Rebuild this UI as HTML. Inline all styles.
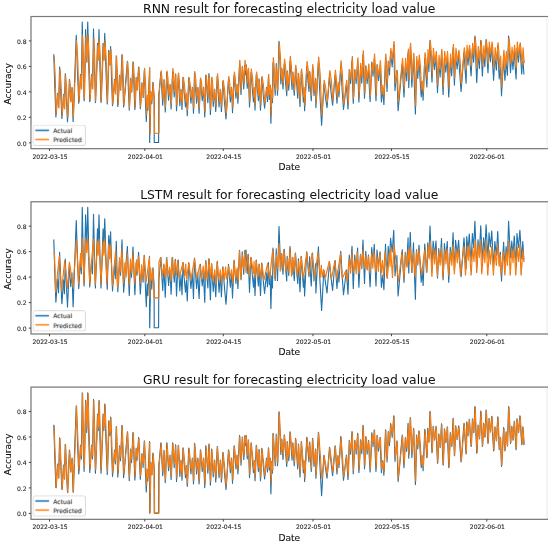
<!DOCTYPE html><html><head><meta charset="utf-8"><style>html,body{margin:0;padding:0;background:#fff;overflow:hidden}svg{display:block}</style></head><body><svg width="550" height="544" viewBox="0 0 550 544">
<style>text{font-family:"DejaVu Sans","Liberation Sans",sans-serif;fill:#1a1a1a;stroke:#1a1a1a;stroke-width:0.08px} text.lab{fill:#111;stroke:#111;stroke-width:0.1px} text.ttl{fill:#111;stroke:none}</style>
<rect width="550" height="544" fill="#fff"/>
<defs><filter id="bl" x="0" y="0" width="1" height="1" color-interpolation-filters="sRGB"><feConvolveMatrix order="3" kernelMatrix="0.0114 0.084 0.0114 0.084 0.618 0.084 0.0114 0.084 0.0114" edgeMode="duplicate" preserveAlpha="true"/></filter></defs><g filter="url(#bl)">
<polyline points="53.80,54.25 54.74,85.62 55.90,117.00 57.50,93.40 58.55,107.40 59.60,67.10 60.63,92.80 61.90,118.50 63.50,94.40 64.38,108.40 65.25,73.75 66.26,97.75 67.50,121.75 69.40,79.50 69.98,90.45 70.70,101.40 72.00,87.40 73.10,121.40 76.25,35.25 77.38,69.25 78.75,103.25 80.50,74.40 81.38,88.40 82.25,22.10 83.08,61.43 84.10,100.75 85.60,29.60 86.70,62.00 87.75,22.10 88.65,61.93 89.75,101.75 91.50,74.40 92.50,88.40 93.50,29.00 94.36,65.80 95.40,102.60 97.50,43.40 98.30,60.00 99.00,29.60 99.90,66.10 101.00,102.60 103.10,43.40 103.90,60.00 104.75,33.40 105.88,68.65 107.25,103.90 108.75,50.25 109.70,65.00 110.60,46.50 111.45,76.12 112.50,105.75 114.50,79.40 115.38,93.40 116.25,55.90 116.95,81.15 117.80,106.40 119.50,75.30 120.50,90.00 122.00,54.60 122.72,80.80 123.60,107.00 127.40,61.25 128.23,85.67 129.25,110.10 130.50,78.40 131.50,92.00 133.00,61.75 133.85,85.62 134.90,109.50 136.10,77.40 137.00,90.00 138.60,67.00 139.37,87.85 140.30,108.70 141.90,82.90 143.10,96.90 144.30,70.30 145.20,95.85 146.30,121.40 147.10,98.40 147.90,110.40 149.50,70.95 149.70,142.40 150.70,91.40 151.80,104.00 152.90,82.40 154.05,99.00 154.25,142.50 158.60,142.50 158.80,95.00 160.90,72.20 161.73,88.65 162.75,105.10 164.00,79.65 164.56,95.83 165.25,112.00 166.75,72.20 167.58,86.15 168.60,100.10 170.00,84.40 171.10,108.90 172.60,72.20 173.34,84.60 174.25,97.00 175.50,74.10 176.50,110.75 178.25,74.70 178.99,90.22 179.90,105.75 181.00,89.40 182.00,109.50 183.00,77.20 184.12,92.10 185.50,107.00 186.38,95.00 187.25,115.75 188.75,77.45 189.76,90.35 191.00,103.25 192.30,87.40 193.50,113.25 194.50,72.80 195.44,88.03 196.60,103.25 197.80,87.40 198.38,100.33 199.10,113.25 200.40,79.10 201.23,89.92 202.25,100.75 203.50,87.40 204.06,102.20 204.75,117.00 205.75,75.30 206.72,88.95 207.90,102.60 208.90,73.45 209.58,93.97 210.40,114.50 211.60,78.45 212.34,92.43 213.25,106.40 214.50,89.40 215.06,100.40 215.75,111.40 217.25,75.95 218.08,91.47 219.10,107.00 220.30,89.40 221.40,111.40 222.90,81.60 224.30,100.25 226.00,118.90 228.50,79.10 229.35,90.55 230.40,102.00 231.50,87.40 232.50,112.60 234.10,75.30 234.95,86.78 236.00,98.25 237.00,84.40 237.90,103.25 239.50,64.95 240.18,79.72 241.00,94.50 242.25,66.50 242.93,77.70 243.75,88.90 244.75,65.30 245.40,75.00 246.00,64.65 246.56,76.45 247.25,88.25 248.25,69.10 248.81,88.05 249.50,107.00 251.00,72.20 252.12,87.10 253.50,102.00 254.25,90.00 255.00,110.10 256.25,74.70 257.22,87.72 258.40,100.75 259.00,78.70 259.68,94.40 260.50,110.10 261.75,77.80 263.03,93.03 264.60,108.25 266.50,87.40 267.45,101.40 268.40,77.20 269.25,99.50 270.07,87.50 270.90,123.25 271.70,90.60 272.50,102.60 273.00,62.80 274.01,78.95 275.25,95.10 276.25,63.45 276.81,79.28 277.50,95.10 279.00,41.20 279.86,62.55 280.90,83.90 281.75,68.40 282.31,78.65 283.00,88.90 284.25,64.10 285.38,79.92 286.75,95.75 287.10,70.90 287.84,80.50 288.75,90.10 290.00,61.20 290.94,75.35 292.10,89.50 292.75,72.15 293.43,83.62 294.25,95.10 295.50,67.80 296.51,83.03 297.75,98.25 298.40,73.40 299.12,89.90 300.00,106.40 301.25,70.95 302.22,86.47 303.40,102.00 304.00,90.00 304.60,110.75 306.75,66.60 307.76,79.00 309.00,91.40 309.60,71.50 310.34,86.12 311.25,100.75 312.50,67.80 313.18,81.78 314.00,95.75 315.50,78.40 315.90,107.60 318.40,61.60 319.84,93.35 321.60,125.10 323.90,84.70 325.29,96.15 327.00,107.60 329.50,76.60 330.89,90.85 332.60,105.10 335.10,75.30 335.96,89.28 337.00,103.25 337.95,85.00 338.90,97.00 340.75,65.95 341.99,87.72 343.50,109.50 346.40,84.45 347.12,96.68 348.00,108.90 349.25,69.65 350.62,83.65 352.00,60.95 352.56,82.10 353.25,103.25 354.75,69.65 356.18,83.65 357.60,62.80 358.19,82.40 358.90,102.00 360.50,69.10 361.75,83.10 363.00,54.70 363.68,76.47 364.50,98.25 365.75,65.90 366.37,74.80 367.12,83.70 368.50,69.70 369.22,85.55 370.10,101.40 371.75,62.15 373.00,76.15 374.25,59.10 375.04,79.92 376.00,100.75 377.00,64.65 377.70,72.62 378.55,80.60 380.10,66.60 380.69,84.30 381.40,102.00 382.65,90.00 383.90,104.50 385.50,59.10 386.18,75.25 387.00,91.40 388.25,60.95 389.43,74.95 390.60,52.95 392.18,66.95 393.75,45.10 394.31,67.92 395.00,90.75 396.90,70.30 397.44,90.53 398.10,110.75 402.25,64.45 403.04,80.72 404.00,97.00 405.25,66.95 406.68,80.95 408.10,52.60 408.75,87.60 410.25,46.95 410.99,66.97 411.90,87.00 413.50,57.60 414.36,85.75 415.40,113.90 416.50,64.45 417.75,78.45 419.00,60.10 420.01,78.55 421.25,97.00 422.18,85.00 423.10,100.10 424.75,58.80 425.72,72.90 426.90,87.00 427.75,57.60 428.88,71.60 430.00,40.70 430.90,61.35 432.00,82.00 433.10,55.70 434.55,69.70 436.00,55.70 436.68,74.15 437.50,92.60 438.75,63.20 440.12,77.20 441.50,53.20 442.22,73.85 443.10,94.50 444.40,58.20 445.82,72.20 447.25,56.30 447.93,76.65 448.75,97.00 450.25,61.95 451.68,75.95 453.10,47.60 453.69,66.35 454.40,85.10 455.60,55.10 457.10,69.10 458.60,55.10 459.73,73.25 461.10,91.40 464.00,52.60 464.94,67.92 466.10,83.25 466.75,51.30 468.00,65.30 469.25,48.80 470.08,62.35 471.10,75.90 472.40,48.20 473.65,62.20 474.90,35.95 475.73,59.27 476.75,82.60 478.00,54.45 479.38,68.45 480.75,40.45 481.49,58.18 482.40,75.90 483.60,52.60 484.85,66.60 486.10,39.45 486.96,56.10 488.00,72.75 489.00,47.60 490.38,61.60 491.75,45.70 492.58,62.98 493.60,80.25 494.90,56.30 496.32,70.30 497.75,46.30 498.43,62.65 499.25,79.00 500.38,67.00 501.50,95.75 503.60,56.95 504.19,68.60 504.90,80.25 506.10,61.30 507.35,75.30 508.60,35.95 509.46,54.35 510.50,72.75 511.75,55.70 513.00,69.70 514.25,50.70 515.08,64.85 516.10,79.00 517.00,48.20 518.45,62.20 519.90,45.10 520.73,59.55 521.75,74.00 522.75,56.30 523.90,74.50" fill="none" stroke="#1f77b4" stroke-width="1.1" stroke-linejoin="round"/>
<polyline points="54.10,56.50 55.04,73.72 56.20,113.90 57.80,94.00 58.85,108.00 59.90,69.00 60.93,82.83 62.20,115.10 63.80,95.00 64.67,109.00 65.55,75.25 66.56,87.78 67.80,117.00 69.70,80.50 70.28,86.95 71.00,102.00 72.30,88.00 73.40,117.25 76.55,40.90 77.67,59.05 79.05,101.40 80.80,75.00 81.67,89.00 82.55,35.25 83.38,54.52 84.40,99.50 85.90,37.10 87.00,62.00 88.05,34.60 88.95,54.25 90.05,100.10 91.80,75.00 92.80,89.00 93.80,38.40 94.66,57.10 95.70,100.75 97.80,45.25 98.60,60.00 99.30,39.00 100.20,57.52 101.30,100.75 103.40,45.25 104.20,60.00 105.05,40.90 106.17,59.23 107.55,102.00 109.05,51.50 110.00,65.00 110.90,49.60 111.75,65.89 112.80,103.90 114.80,80.00 115.67,94.00 116.55,56.50 117.25,70.90 118.10,104.50 119.80,75.90 120.80,90.00 122.30,55.50 123.02,70.38 123.90,105.10 127.70,62.00 128.53,75.68 129.55,107.60 130.80,79.00 131.80,92.00 133.30,62.50 134.16,75.85 135.20,107.00 136.40,78.00 137.30,90.00 138.90,67.50 139.67,79.17 140.60,106.40 142.20,83.50 143.40,97.50 144.60,68.70 145.50,82.44 146.60,114.50 147.40,95.00 148.20,107.00 149.80,67.50 150.00,133.50 151.00,92.00 152.10,101.00 153.20,83.00 154.35,99.00 154.55,133.25 158.90,133.25 159.10,95.00 161.20,70.80 162.03,79.59 163.05,100.10 164.30,80.25 164.86,88.28 165.55,107.00 167.05,71.00 167.88,78.23 168.90,95.10 170.30,85.00 171.40,103.90 172.90,68.50 173.64,75.55 174.55,92.00 175.80,74.00 176.80,105.75 178.55,73.00 179.29,81.33 180.20,100.75 181.30,90.00 182.30,104.50 183.30,77.50 184.43,84.85 185.80,102.00 186.68,93.00 187.55,110.10 189.05,77.75 190.06,83.90 191.30,98.25 192.60,88.00 193.80,108.25 194.80,71.50 195.75,79.53 196.90,98.25 198.10,88.00 198.69,94.08 199.40,108.25 200.70,78.00 201.53,83.33 202.55,95.75 203.80,88.00 204.36,95.20 205.05,112.00 206.05,75.00 207.02,81.78 208.20,97.60 209.20,75.50 209.88,85.70 210.70,109.50 211.90,77.10 212.64,84.39 213.55,101.40 214.80,90.00 215.36,94.92 216.05,106.40 217.55,73.75 218.38,82.22 219.40,102.00 220.60,90.00 221.70,106.40 223.20,80.25 224.60,90.34 226.30,113.90 228.80,76.50 229.66,82.65 230.70,97.00 231.80,88.00 232.80,107.60 234.40,72.10 235.25,78.44 236.30,93.25 237.30,85.00 238.20,98.25 239.80,60.25 240.48,69.03 241.30,89.50 242.55,67.10 243.23,72.14 244.05,83.90 245.05,60.25 245.70,70.00 246.30,65.25 246.86,70.65 247.55,83.25 248.55,68.40 249.11,78.48 249.80,102.00 251.30,69.00 252.43,77.40 253.80,97.00 254.55,87.50 255.30,105.10 256.55,72.10 257.52,79.19 258.70,95.75 259.30,80.25 259.98,87.70 260.80,105.10 262.05,76.50 263.33,84.53 264.90,103.25 266.80,88.00 267.75,96.40 268.70,74.60 269.55,94.50 270.38,85.00 271.20,115.10 272.00,88.00 272.80,97.60 273.30,57.75 274.31,67.45 275.55,90.10 276.55,66.50 277.11,73.58 277.80,90.10 279.30,42.75 280.16,53.59 281.20,78.90 282.05,69.00 283.30,83.90 284.55,59.00 285.68,68.53 287.05,90.75 287.40,71.50 289.05,85.10 290.30,56.50 291.25,64.90 292.40,84.50 293.05,72.75 293.73,77.95 294.55,90.10 295.80,65.25 296.81,73.65 298.05,93.25 298.70,74.00 299.42,82.22 300.30,101.40 301.55,69.00 302.52,77.40 303.70,97.00 304.30,87.50 304.90,105.75 307.05,61.50 308.06,68.97 309.30,86.40 309.90,72.10 310.64,79.19 311.55,95.75 312.80,64.60 313.48,72.44 314.30,90.75 315.80,79.00 316.20,102.60 318.70,57.10 320.14,74.69 321.90,115.75 324.20,80.25 325.59,86.78 327.30,102.00 329.80,70.90 331.19,79.66 332.90,100.10 335.40,70.25 336.26,78.65 337.30,98.25 338.25,82.00 339.20,92.00 341.05,60.90 342.29,73.98 343.80,104.50 346.70,80.25 347.42,87.34 348.30,103.90 349.55,70.25 350.93,78.65 352.30,56.50 352.86,69.03 353.55,98.25 355.05,70.25 356.48,78.65 357.90,57.75 358.49,69.53 359.20,97.00 360.80,63.40 362.05,77.40 363.30,50.90 363.98,63.60 364.80,93.25 366.05,66.50 367.43,78.70 368.80,64.00 369.52,73.72 370.40,96.40 372.05,62.75 373.30,71.15 374.55,54.00 375.34,66.53 376.30,95.75 377.30,65.25 378.85,75.60 380.40,60.90 380.99,70.98 381.70,94.50 382.95,85.00 384.20,97.00 385.80,54.00 386.48,62.97 387.30,83.90 388.55,61.50 389.73,67.45 390.90,48.40 392.48,59.45 394.05,41.50 394.61,54.02 395.30,83.25 397.20,70.90 397.74,80.23 398.40,102.00 402.55,58.40 403.34,67.73 404.30,89.50 405.55,58.40 406.98,72.40 408.40,49.00 409.05,80.10 410.55,43.40 411.29,54.23 412.20,79.50 413.80,53.40 414.66,69.11 415.70,105.75 416.80,56.50 418.05,70.50 419.30,55.25 420.31,65.53 421.55,89.50 422.48,81.00 423.40,92.60 425.05,52.75 426.02,60.77 427.20,79.50 428.05,49.60 429.18,63.60 430.30,40.25 431.20,50.52 432.30,74.50 433.40,48.40 434.85,62.20 436.30,51.50 436.98,61.58 437.80,85.10 439.05,55.25 440.43,69.25 441.80,49.60 442.52,60.82 443.40,87.00 444.70,51.50 446.12,64.70 447.55,51.50 448.23,62.52 449.05,88.25 450.55,54.00 451.98,68.00 453.40,44.60 453.99,54.50 454.70,77.60 455.90,48.40 457.40,61.60 458.90,50.25 460.03,60.34 461.40,83.90 464.30,47.75 465.25,54.42 466.40,70.00 467.05,45.25 468.30,57.80 469.55,45.25 470.38,51.48 471.40,66.00 472.70,43.40 473.95,54.70 475.20,37.10 476.03,46.37 477.05,68.00 478.30,46.50 479.68,60.50 481.05,40.25 481.79,47.98 482.70,66.00 483.90,45.90 485.15,59.10 486.40,40.25 487.26,47.38 488.30,64.00 489.30,42.10 490.68,54.10 492.05,42.10 492.88,49.87 493.90,68.00 495.20,47.75 496.62,61.75 498.05,42.75 498.73,50.33 499.55,68.00 500.68,56.00 501.80,87.00 503.90,50.25 504.49,56.17 505.20,70.00 506.40,51.50 507.65,65.50 508.90,38.00 509.76,45.80 510.80,64.00 512.05,47.10 513.30,61.10 514.55,45.25 515.38,52.08 516.40,68.00 517.30,42.10 518.75,54.70 520.20,42.75 521.03,49.73 522.05,66.00 523.05,47.75 524.20,63.00" fill="none" stroke="#ff7f0e" stroke-width="1.2" stroke-linejoin="round"/>
<rect x="33.2" y="125.40" width="52.2" height="20" rx="1.5" fill="#fff" fill-opacity="0.8" stroke="#d8d8d8" stroke-width="0.6"/>
<line x1="35.3" x2="49.1" y1="130.40" y2="130.40" stroke="#1f77b4" stroke-width="1.6"/>
<line x1="35.3" x2="49.1" y1="139.50" y2="139.50" stroke="#ff7f0e" stroke-width="1.5"/>
<text x="53.3" y="133.10" font-size="6.1">Actual</text>
<text x="53.3" y="142.40" font-size="6.1">Predicted</text>
<rect x="31.0" y="16.5" width="516.5" height="132.2" fill="none" stroke="#7a7a7a" stroke-width="1.15"/>
<line x1="28.8" x2="31.0" y1="142.80" y2="142.80" stroke="#222" stroke-width="0.85"/>
<text x="26.7" y="145.60" font-size="6.1" text-anchor="end">0.0</text>
<line x1="28.8" x2="31.0" y1="117.32" y2="117.32" stroke="#222" stroke-width="0.85"/>
<text x="26.7" y="120.12" font-size="6.1" text-anchor="end">0.2</text>
<line x1="28.8" x2="31.0" y1="91.84" y2="91.84" stroke="#222" stroke-width="0.85"/>
<text x="26.7" y="94.64" font-size="6.1" text-anchor="end">0.4</text>
<line x1="28.8" x2="31.0" y1="66.36" y2="66.36" stroke="#222" stroke-width="0.85"/>
<text x="26.7" y="69.16" font-size="6.1" text-anchor="end">0.6</text>
<line x1="28.8" x2="31.0" y1="40.88" y2="40.88" stroke="#222" stroke-width="0.85"/>
<text x="26.7" y="43.68" font-size="6.1" text-anchor="end">0.8</text>
<line x1="49.50" x2="49.50" y1="148.7" y2="150.89999999999998" stroke="#222" stroke-width="0.85"/>
<text x="50.10" y="158.70" font-size="6.05" text-anchor="middle">2022-03-15</text>
<line x1="144.80" x2="144.80" y1="148.7" y2="150.89999999999998" stroke="#222" stroke-width="0.85"/>
<text x="145.40" y="158.70" font-size="6.05" text-anchor="middle">2022-04-01</text>
<line x1="223.29" x2="223.29" y1="148.7" y2="150.89999999999998" stroke="#222" stroke-width="0.85"/>
<text x="223.89" y="158.70" font-size="6.05" text-anchor="middle">2022-04-15</text>
<line x1="312.98" x2="312.98" y1="148.7" y2="150.89999999999998" stroke="#222" stroke-width="0.85"/>
<text x="313.58" y="158.70" font-size="6.05" text-anchor="middle">2022-05-01</text>
<line x1="391.47" x2="391.47" y1="148.7" y2="150.89999999999998" stroke="#222" stroke-width="0.85"/>
<text x="392.07" y="158.70" font-size="6.05" text-anchor="middle">2022-05-15</text>
<line x1="486.77" x2="486.77" y1="148.7" y2="150.89999999999998" stroke="#222" stroke-width="0.85"/>
<text x="487.37" y="158.70" font-size="6.05" text-anchor="middle">2022-06-01</text>
<text class="lab" x="289.25" y="170.00" font-size="9.1" text-anchor="middle">Date</text>
<text class="lab" transform="translate(10.8,83.80) rotate(-90)" font-size="9.1" text-anchor="middle">Accuracy</text>
<text class="ttl" x="289.25" y="13.20" font-size="12.33" text-anchor="middle">RNN result for forecasting electricity load value</text>
<polyline points="53.80,239.55 54.74,270.93 55.90,302.30 57.50,278.70 58.55,292.70 59.60,252.40 60.63,278.10 61.90,303.80 63.50,279.70 64.38,293.70 65.25,259.05 66.26,283.05 67.50,307.05 69.40,264.80 69.98,275.75 70.70,286.70 72.00,272.70 73.10,306.70 76.25,220.55 77.38,254.55 78.75,288.55 80.50,259.70 81.38,273.70 82.25,207.40 83.08,246.73 84.10,286.05 85.60,214.90 86.70,247.30 87.75,207.40 88.65,247.23 89.75,287.05 91.50,259.70 92.50,273.70 93.50,214.30 94.36,251.10 95.40,287.90 97.50,228.70 98.30,245.30 99.00,214.90 99.90,251.40 101.00,287.90 103.10,228.70 103.90,245.30 104.75,218.70 105.88,253.95 107.25,289.20 108.75,235.55 109.70,250.30 110.60,231.80 111.45,261.43 112.50,291.05 114.50,264.70 115.38,278.70 116.25,241.20 116.95,266.45 117.80,291.70 119.50,260.60 120.50,275.30 122.00,239.90 122.72,266.10 123.60,292.30 127.40,246.55 128.23,270.98 129.25,295.40 130.50,263.70 131.50,277.30 133.00,247.05 133.85,270.93 134.90,294.80 136.10,262.70 137.00,275.30 138.60,252.30 139.37,273.15 140.30,294.00 141.90,268.20 143.10,282.20 144.30,255.60 145.20,281.15 146.30,306.70 147.10,283.70 147.90,295.70 149.50,256.25 149.70,327.70 150.70,276.70 151.80,289.30 152.90,267.70 154.05,284.30 154.25,327.80 158.60,327.80 158.80,280.30 160.90,257.50 161.73,273.95 162.75,290.40 164.00,264.95 164.56,281.12 165.25,297.30 166.75,257.50 167.58,271.45 168.60,285.40 170.00,269.70 171.10,294.20 172.60,257.50 173.34,269.90 174.25,282.30 175.50,259.40 176.50,296.05 178.25,260.00 178.99,275.52 179.90,291.05 181.00,274.70 182.00,294.80 183.00,262.50 184.12,277.40 185.50,292.30 186.38,280.30 187.25,301.05 188.75,262.75 189.76,275.65 191.00,288.55 192.30,272.70 193.50,298.55 194.50,258.10 195.44,273.33 196.60,288.55 197.80,272.70 198.38,285.62 199.10,298.55 200.40,264.40 201.23,275.23 202.25,286.05 203.50,272.70 204.06,287.50 204.75,302.30 205.75,260.60 206.72,274.25 207.90,287.90 208.90,258.75 209.58,279.27 210.40,299.80 211.60,263.75 212.34,277.73 213.25,291.70 214.50,274.70 215.06,285.70 215.75,296.70 217.25,261.25 218.08,276.77 219.10,292.30 220.30,274.70 221.40,296.70 222.90,266.90 224.30,285.55 226.00,304.20 228.50,264.40 229.35,275.85 230.40,287.30 231.50,272.70 232.50,297.90 234.10,260.60 234.95,272.08 236.00,283.55 237.00,269.70 237.90,288.55 239.50,250.25 240.18,265.02 241.00,279.80 242.25,251.80 242.93,263.00 243.75,274.20 244.75,250.60 245.40,260.30 246.00,249.95 246.56,261.75 247.25,273.55 248.25,254.40 248.81,273.35 249.50,292.30 251.00,257.50 252.12,272.40 253.50,287.30 254.25,275.30 255.00,295.40 256.25,260.00 257.22,273.02 258.40,286.05 259.00,264.00 259.68,279.70 260.50,295.40 261.75,263.10 263.03,278.33 264.60,293.55 266.50,272.70 267.45,286.70 268.40,262.50 269.25,284.80 270.07,272.80 270.90,308.55 271.70,275.90 272.50,287.90 273.00,248.10 274.01,264.25 275.25,280.40 276.25,248.75 276.81,264.58 277.50,280.40 279.00,226.50 279.86,247.85 280.90,269.20 281.75,253.70 282.31,263.95 283.00,274.20 284.25,249.40 285.38,265.23 286.75,281.05 287.10,256.20 287.84,265.80 288.75,275.40 290.00,246.50 290.94,260.65 292.10,274.80 292.75,257.45 293.43,268.93 294.25,280.40 295.50,253.10 296.51,268.33 297.75,283.55 298.40,258.70 299.12,275.20 300.00,291.70 301.25,256.25 302.22,271.77 303.40,287.30 304.00,275.30 304.60,296.05 306.75,251.90 307.76,264.30 309.00,276.70 309.60,256.80 310.34,271.43 311.25,286.05 312.50,253.10 313.18,267.08 314.00,281.05 315.50,263.70 315.90,292.90 318.40,246.90 319.84,278.65 321.60,310.40 323.90,270.00 325.29,281.45 327.00,292.90 329.50,261.90 330.89,276.15 332.60,290.40 335.10,260.60 335.96,274.58 337.00,288.55 337.95,270.30 338.90,282.30 340.75,251.25 341.99,273.02 343.50,294.80 346.40,269.75 347.12,281.98 348.00,294.20 349.25,254.95 350.62,268.95 352.00,246.25 352.56,267.40 353.25,288.55 354.75,254.95 356.18,268.95 357.60,248.10 358.19,267.70 358.90,287.30 360.50,254.40 361.75,268.40 363.00,240.00 363.68,261.77 364.50,283.55 365.75,251.20 366.37,260.10 367.12,269.00 368.50,255.00 369.22,270.85 370.10,286.70 371.75,247.45 373.00,261.45 374.25,244.40 375.04,265.23 376.00,286.05 377.00,249.95 377.70,257.93 378.55,265.90 380.10,251.90 380.69,269.60 381.40,287.30 382.65,275.30 383.90,289.80 385.50,244.40 386.18,260.55 387.00,276.70 388.25,246.25 389.43,260.25 390.60,238.25 392.18,252.25 393.75,230.40 394.31,253.23 395.00,276.05 396.90,255.60 397.44,275.83 398.10,296.05 402.25,249.75 403.04,266.02 404.00,282.30 405.25,252.25 406.68,266.25 408.10,237.90 408.75,272.90 410.25,232.25 410.99,252.28 411.90,272.30 413.50,242.90 414.36,271.05 415.40,299.20 416.50,249.75 417.75,263.75 419.00,245.40 420.01,263.85 421.25,282.30 422.18,270.30 423.10,285.40 424.75,244.10 425.72,258.20 426.90,272.30 427.75,242.90 428.88,256.90 430.00,226.00 430.90,246.65 432.00,267.30 433.10,241.00 434.55,255.00 436.00,241.00 436.68,259.45 437.50,277.90 438.75,248.50 440.12,262.50 441.50,238.50 442.22,259.15 443.10,279.80 444.40,243.50 445.82,257.50 447.25,241.60 447.93,261.95 448.75,282.30 450.25,247.25 451.68,261.25 453.10,232.90 453.69,251.65 454.40,270.40 455.60,240.40 457.10,254.40 458.60,240.40 459.73,258.55 461.10,276.70 464.00,237.90 464.94,253.23 466.10,268.55 466.75,236.60 468.00,250.60 469.25,234.10 470.08,247.65 471.10,261.20 472.40,233.50 473.65,247.50 474.90,221.25 475.73,244.58 476.75,267.90 478.00,239.75 479.38,253.75 480.75,225.75 481.49,243.48 482.40,261.20 483.60,237.90 484.85,251.90 486.10,224.75 486.96,241.40 488.00,258.05 489.00,232.90 490.38,246.90 491.75,231.00 492.58,248.28 493.60,265.55 494.90,241.60 496.32,255.60 497.75,231.60 498.43,247.95 499.25,264.30 500.38,252.30 501.50,281.05 503.60,242.25 504.19,253.90 504.90,265.55 506.10,246.60 507.35,260.60 508.60,221.25 509.46,239.65 510.50,258.05 511.75,241.00 513.00,255.00 514.25,236.00 515.08,250.15 516.10,264.30 517.00,233.50 518.45,247.50 519.90,230.40 520.73,244.85 521.75,259.30 522.75,241.60 523.90,259.80" fill="none" stroke="#1f77b4" stroke-width="1.1" stroke-linejoin="round"/>
<polyline points="54.40,252.25 55.60,292.25 59.40,256.00 61.50,291.00 64.75,261.00 67.50,288.50 69.40,262.25 73.10,287.25 76.50,240.00 78.50,283.50 80.60,253.50 81.42,267.50 82.25,238.00 84.00,283.50 85.60,238.75 86.67,252.75 87.75,238.75 89.75,284.00 93.50,238.75 95.25,284.75 97.50,241.25 98.25,255.25 99.00,239.40 101.00,284.00 103.10,241.25 103.92,255.25 104.75,239.40 106.90,284.00 108.75,243.75 109.67,259.00 110.60,245.00 112.50,286.00 115.60,251.00 117.50,287.50 118.00,271.50 118.50,283.50 119.50,257.90 120.75,271.90 122.00,248.50 123.60,283.50 124.90,262.90 126.15,276.90 127.40,253.50 129.25,284.75 130.50,259.00 131.75,273.00 133.00,253.50 134.90,284.00 136.50,259.75 137.55,273.75 138.60,256.60 140.50,283.50 141.75,264.75 143.00,278.75 144.25,255.40 146.10,282.25 149.50,257.25 149.75,298.00 150.60,268.00 151.80,280.00 153.00,269.00 154.20,297.90 158.70,297.90 159.00,262.00 160.50,257.90 162.40,276.00 164.00,264.00 165.25,278.00 166.50,258.50 167.75,276.00 169.50,267.00 170.75,281.00 172.00,257.90 173.60,277.25 175.10,259.75 176.43,274.40 177.75,260.40 179.25,277.25 183.00,262.90 184.90,276.00 185.75,264.00 186.60,279.00 188.75,262.90 191.00,279.75 194.50,258.50 196.60,278.50 200.00,264.75 201.60,279.00 203.25,266.00 204.50,280.00 205.75,261.60 207.25,279.00 209.10,259.10 210.35,278.10 211.60,264.10 212.90,281.00 214.75,269.75 216.00,283.75 217.25,262.25 218.75,278.50 220.40,269.75 221.65,283.75 222.90,267.25 224.50,279.75 225.55,267.00 226.60,279.00 228.50,266.00 230.00,277.25 231.60,269.75 232.85,283.75 234.10,260.40 235.75,279.00 237.25,267.90 238.38,281.90 239.50,251.00 241.00,278.50 242.50,254.75 243.62,268.75 244.75,251.00 246.00,272.25 247.90,254.75 249.50,276.00 251.00,257.25 253.50,273.50 254.05,261.50 254.60,277.25 256.25,260.40 257.75,277.25 259.25,264.75 260.50,278.75 261.75,263.50 264.00,279.75 267.75,263.50 269.60,278.50 272.75,249.75 274.60,278.50 276.50,254.75 277.75,268.75 279.00,243.50 280.25,271.00 281.75,253.50 282.88,267.50 284.00,249.75 285.90,272.25 287.75,258.50 288.88,272.50 290.00,248.50 291.50,276.00 292.75,257.25 294.00,271.25 295.25,253.50 297.10,276.00 298.75,261.00 300.00,275.00 301.25,256.60 303.40,278.50 306.75,252.25 309.00,274.75 312.10,253.50 314.60,278.50 318.00,252.25 320.25,277.25 321.25,265.25 322.25,277.25 323.50,269.75 325.50,277.25 329.25,261.60 331.40,279.00 334.90,261.00 336.75,279.00 340.50,253.50 342.25,278.50 345.75,271.00 347.00,281.00 349.25,259.10 350.62,273.10 352.00,252.25 353.50,272.25 355.10,259.75 356.18,273.75 357.25,252.25 358.90,273.50 360.50,254.75 361.75,268.75 363.00,249.75 364.75,268.50 366.00,256.00 367.25,270.00 368.50,256.00 370.10,272.25 371.75,254.10 372.82,268.10 373.90,251.00 375.75,272.25 377.00,257.25 378.38,271.25 379.75,252.90 381.40,272.25 382.45,260.25 383.50,276.00 385.10,251.60 387.25,278.50 389.50,252.25 390.05,266.25 390.60,247.50 392.50,277.50 394.00,245.00 398.50,281.25 401.90,252.50 404.00,278.75 405.60,253.10 407.05,267.10 408.50,248.75 409.38,262.75 410.25,246.90 411.90,272.50 413.75,252.50 415.00,276.25 416.50,251.25 417.75,265.25 419.00,250.00 421.50,275.00 424.75,250.00 426.50,272.00 428.10,245.00 429.18,259.00 430.25,241.25 431.90,276.25 433.50,248.10 434.75,264.00 436.00,250.00 437.50,276.25 438.75,251.25 440.12,265.25 441.50,247.50 443.10,277.50 444.75,250.00 446.00,264.00 447.25,248.75 448.75,275.60 450.60,251.25 451.85,265.25 453.10,245.00 454.40,273.75 456.00,248.75 457.30,262.75 458.60,248.75 460.50,275.00 464.00,246.90 465.50,275.00 467.40,246.25 468.32,260.25 469.25,245.00 471.10,275.00 472.75,247.50 474.00,261.50 475.25,240.00 476.75,272.50 478.00,243.75 479.25,257.75 480.50,240.60 481.75,273.75 483.60,248.75 484.85,262.75 486.10,240.60 487.75,275.00 489.25,250.00 490.50,264.00 491.75,246.25 493.40,275.00 494.90,251.25 496.32,265.25 497.75,244.40 499.25,266.25 500.18,254.25 501.10,275.00 503.25,251.90 504.90,275.00 506.10,251.25 507.35,265.25 508.60,241.25 510.25,275.00 511.75,248.75 513.00,262.75 514.25,247.50 515.75,275.00 517.40,247.50 518.65,261.50 519.90,244.40 521.10,275.00 523.00,250.00 523.90,262.00" fill="none" stroke="#ff7f0e" stroke-width="1.2" stroke-linejoin="round"/>
<rect x="33.2" y="310.70" width="52.2" height="20" rx="1.5" fill="#fff" fill-opacity="0.8" stroke="#d8d8d8" stroke-width="0.6"/>
<line x1="35.3" x2="49.1" y1="315.70" y2="315.70" stroke="#1f77b4" stroke-width="1.6"/>
<line x1="35.3" x2="49.1" y1="324.80" y2="324.80" stroke="#ff7f0e" stroke-width="1.5"/>
<text x="53.3" y="318.40" font-size="6.1">Actual</text>
<text x="53.3" y="327.70" font-size="6.1">Predicted</text>
<rect x="31.0" y="201.8" width="516.5" height="132.2" fill="none" stroke="#7a7a7a" stroke-width="1.15"/>
<line x1="28.8" x2="31.0" y1="328.10" y2="328.10" stroke="#222" stroke-width="0.85"/>
<text x="26.7" y="330.90" font-size="6.1" text-anchor="end">0.0</text>
<line x1="28.8" x2="31.0" y1="302.62" y2="302.62" stroke="#222" stroke-width="0.85"/>
<text x="26.7" y="305.42" font-size="6.1" text-anchor="end">0.2</text>
<line x1="28.8" x2="31.0" y1="277.14" y2="277.14" stroke="#222" stroke-width="0.85"/>
<text x="26.7" y="279.94" font-size="6.1" text-anchor="end">0.4</text>
<line x1="28.8" x2="31.0" y1="251.66" y2="251.66" stroke="#222" stroke-width="0.85"/>
<text x="26.7" y="254.46" font-size="6.1" text-anchor="end">0.6</text>
<line x1="28.8" x2="31.0" y1="226.18" y2="226.18" stroke="#222" stroke-width="0.85"/>
<text x="26.7" y="228.98" font-size="6.1" text-anchor="end">0.8</text>
<line x1="49.50" x2="49.50" y1="334.0" y2="336.2" stroke="#222" stroke-width="0.85"/>
<text x="50.10" y="344.00" font-size="6.05" text-anchor="middle">2022-03-15</text>
<line x1="144.80" x2="144.80" y1="334.0" y2="336.2" stroke="#222" stroke-width="0.85"/>
<text x="145.40" y="344.00" font-size="6.05" text-anchor="middle">2022-04-01</text>
<line x1="223.29" x2="223.29" y1="334.0" y2="336.2" stroke="#222" stroke-width="0.85"/>
<text x="223.89" y="344.00" font-size="6.05" text-anchor="middle">2022-04-15</text>
<line x1="312.98" x2="312.98" y1="334.0" y2="336.2" stroke="#222" stroke-width="0.85"/>
<text x="313.58" y="344.00" font-size="6.05" text-anchor="middle">2022-05-01</text>
<line x1="391.47" x2="391.47" y1="334.0" y2="336.2" stroke="#222" stroke-width="0.85"/>
<text x="392.07" y="344.00" font-size="6.05" text-anchor="middle">2022-05-15</text>
<line x1="486.77" x2="486.77" y1="334.0" y2="336.2" stroke="#222" stroke-width="0.85"/>
<text x="487.37" y="344.00" font-size="6.05" text-anchor="middle">2022-06-01</text>
<text class="lab" x="289.25" y="355.30" font-size="9.1" text-anchor="middle">Date</text>
<text class="lab" transform="translate(10.8,269.10) rotate(-90)" font-size="9.1" text-anchor="middle">Accuracy</text>
<text class="ttl" x="289.25" y="198.50" font-size="12.33" text-anchor="middle">LSTM result for forecasting electricity load value</text>
<polyline points="53.80,424.85 54.74,456.23 55.90,487.60 57.50,464.00 58.55,478.00 59.60,437.70 60.63,463.40 61.90,489.10 63.50,465.00 64.38,479.00 65.25,444.35 66.26,468.35 67.50,492.35 69.40,450.10 69.98,461.05 70.70,472.00 72.00,458.00 73.10,492.00 76.25,405.85 77.38,439.85 78.75,473.85 80.50,445.00 81.38,459.00 82.25,392.70 83.08,432.03 84.10,471.35 85.60,400.20 86.70,432.60 87.75,392.70 88.65,432.53 89.75,472.35 91.50,445.00 92.50,459.00 93.50,399.60 94.36,436.40 95.40,473.20 97.50,414.00 98.30,430.60 99.00,400.20 99.90,436.70 101.00,473.20 103.10,414.00 103.90,430.60 104.75,404.00 105.88,439.25 107.25,474.50 108.75,420.85 109.70,435.60 110.60,417.10 111.45,446.73 112.50,476.35 114.50,450.00 115.38,464.00 116.25,426.50 116.95,451.75 117.80,477.00 119.50,445.90 120.50,460.60 122.00,425.20 122.72,451.40 123.60,477.60 127.40,431.85 128.23,456.28 129.25,480.70 130.50,449.00 131.50,462.60 133.00,432.35 133.85,456.23 134.90,480.10 136.10,448.00 137.00,460.60 138.60,437.60 139.37,458.45 140.30,479.30 141.90,453.50 143.10,467.50 144.30,440.90 145.20,466.45 146.30,492.00 147.10,469.00 147.90,481.00 149.50,441.55 149.70,513.00 150.70,462.00 151.80,474.60 152.90,453.00 154.05,469.60 154.25,513.10 158.60,513.10 158.80,465.60 160.90,442.80 161.73,459.25 162.75,475.70 164.00,450.25 164.56,466.43 165.25,482.60 166.75,442.80 167.58,456.75 168.60,470.70 170.00,455.00 171.10,479.50 172.60,442.80 173.34,455.20 174.25,467.60 175.50,444.70 176.50,481.35 178.25,445.30 178.99,460.83 179.90,476.35 181.00,460.00 182.00,480.10 183.00,447.80 184.12,462.70 185.50,477.60 186.38,465.60 187.25,486.35 188.75,448.05 189.76,460.95 191.00,473.85 192.30,458.00 193.50,483.85 194.50,443.40 195.44,458.62 196.60,473.85 197.80,458.00 198.38,470.93 199.10,483.85 200.40,449.70 201.23,460.53 202.25,471.35 203.50,458.00 204.06,472.80 204.75,487.60 205.75,445.90 206.72,459.55 207.90,473.20 208.90,444.05 209.58,464.58 210.40,485.10 211.60,449.05 212.34,463.03 213.25,477.00 214.50,460.00 215.06,471.00 215.75,482.00 217.25,446.55 218.08,462.08 219.10,477.60 220.30,460.00 221.40,482.00 222.90,452.20 224.30,470.85 226.00,489.50 228.50,449.70 229.35,461.15 230.40,472.60 231.50,458.00 232.50,483.20 234.10,445.90 234.95,457.38 236.00,468.85 237.00,455.00 237.90,473.85 239.50,435.55 240.18,450.33 241.00,465.10 242.25,437.10 242.93,448.30 243.75,459.50 244.75,435.90 245.40,445.60 246.00,435.25 246.56,447.05 247.25,458.85 248.25,439.70 248.81,458.65 249.50,477.60 251.00,442.80 252.12,457.70 253.50,472.60 254.25,460.60 255.00,480.70 256.25,445.30 257.22,458.33 258.40,471.35 259.00,449.30 259.68,465.00 260.50,480.70 261.75,448.40 263.03,463.62 264.60,478.85 266.50,458.00 267.45,472.00 268.40,447.80 269.25,470.10 270.07,458.10 270.90,493.85 271.70,461.20 272.50,473.20 273.00,433.40 274.01,449.55 275.25,465.70 276.25,434.05 276.81,449.88 277.50,465.70 279.00,411.80 279.86,433.15 280.90,454.50 281.75,439.00 282.31,449.25 283.00,459.50 284.25,434.70 285.38,450.53 286.75,466.35 287.10,441.50 287.84,451.10 288.75,460.70 290.00,431.80 290.94,445.95 292.10,460.10 292.75,442.75 293.43,454.23 294.25,465.70 295.50,438.40 296.51,453.62 297.75,468.85 298.40,444.00 299.12,460.50 300.00,477.00 301.25,441.55 302.22,457.08 303.40,472.60 304.00,460.60 304.60,481.35 306.75,437.20 307.76,449.60 309.00,462.00 309.60,442.10 310.34,456.73 311.25,471.35 312.50,438.40 313.18,452.38 314.00,466.35 315.50,449.00 315.90,478.20 318.40,432.20 319.84,463.95 321.60,495.70 323.90,455.30 325.29,466.75 327.00,478.20 329.50,447.20 330.89,461.45 332.60,475.70 335.10,445.90 335.96,459.88 337.00,473.85 337.95,455.60 338.90,467.60 340.75,436.55 341.99,458.33 343.50,480.10 346.40,455.05 347.12,467.28 348.00,479.50 349.25,440.25 350.62,454.25 352.00,431.55 352.56,452.70 353.25,473.85 354.75,440.25 356.18,454.25 357.60,433.40 358.19,453.00 358.90,472.60 360.50,439.70 361.75,453.70 363.00,425.30 363.68,447.08 364.50,468.85 365.75,436.50 366.37,445.40 367.12,454.30 368.50,440.30 369.22,456.15 370.10,472.00 371.75,432.75 373.00,446.75 374.25,429.70 375.04,450.53 376.00,471.35 377.00,435.25 377.70,443.23 378.55,451.20 380.10,437.20 380.69,454.90 381.40,472.60 382.65,460.60 383.90,475.10 385.50,429.70 386.18,445.85 387.00,462.00 388.25,431.55 389.43,445.55 390.60,423.55 392.18,437.55 393.75,415.70 394.31,438.53 395.00,461.35 396.90,440.90 397.44,461.12 398.10,481.35 402.25,435.05 403.04,451.33 404.00,467.60 405.25,437.55 406.68,451.55 408.10,423.20 408.75,458.20 410.25,417.55 410.99,437.58 411.90,457.60 413.50,428.20 414.36,456.35 415.40,484.50 416.50,435.05 417.75,449.05 419.00,430.70 420.01,449.15 421.25,467.60 422.18,455.60 423.10,470.70 424.75,429.40 425.72,443.50 426.90,457.60 427.75,428.20 428.88,442.20 430.00,411.30 430.90,431.95 432.00,452.60 433.10,426.30 434.55,440.30 436.00,426.30 436.68,444.75 437.50,463.20 438.75,433.80 440.12,447.80 441.50,423.80 442.22,444.45 443.10,465.10 444.40,428.80 445.82,442.80 447.25,426.90 447.93,447.25 448.75,467.60 450.25,432.55 451.68,446.55 453.10,418.20 453.69,436.95 454.40,455.70 455.60,425.70 457.10,439.70 458.60,425.70 459.73,443.85 461.10,462.00 464.00,423.20 464.94,438.53 466.10,453.85 466.75,421.90 468.00,435.90 469.25,419.40 470.08,432.95 471.10,446.50 472.40,418.80 473.65,432.80 474.90,406.55 475.73,429.88 476.75,453.20 478.00,425.05 479.38,439.05 480.75,411.05 481.49,428.78 482.40,446.50 483.60,423.20 484.85,437.20 486.10,410.05 486.96,426.70 488.00,443.35 489.00,418.20 490.38,432.20 491.75,416.30 492.58,433.58 493.60,450.85 494.90,426.90 496.32,440.90 497.75,416.90 498.43,433.25 499.25,449.60 500.38,437.60 501.50,466.35 503.60,427.55 504.19,439.20 504.90,450.85 506.10,431.90 507.35,445.90 508.60,406.55 509.46,424.95 510.50,443.35 511.75,426.30 513.00,440.30 514.25,421.30 515.08,435.45 516.10,449.60 517.00,418.80 518.45,432.80 519.90,415.70 520.73,430.15 521.75,444.60 522.75,426.90 523.90,445.10" fill="none" stroke="#1f77b4" stroke-width="1.1" stroke-linejoin="round"/>
<polyline points="54.10,425.65 56.20,487.60 57.80,464.80 58.85,478.00 59.90,438.50 62.20,489.10 63.80,465.80 64.67,479.00 65.55,445.15 67.80,492.35 69.70,450.90 71.00,472.00 72.30,458.80 73.40,492.00 76.55,406.65 79.05,470.35 80.80,445.80 81.67,455.50 82.55,393.50 84.40,467.85 85.90,401.00 87.00,429.10 88.05,393.50 90.05,468.85 91.80,445.80 92.80,455.50 93.80,400.40 95.70,469.70 97.80,414.80 98.60,427.10 99.30,401.00 101.30,469.70 103.40,414.80 104.20,427.10 105.05,404.80 107.55,471.00 109.05,421.65 110.00,432.10 110.90,417.90 112.80,472.85 114.80,450.80 115.67,460.50 116.55,427.30 118.10,473.50 119.80,446.70 120.80,457.10 122.30,426.00 123.90,474.10 127.70,432.65 129.55,477.20 130.80,449.80 131.80,459.10 133.30,433.15 135.20,476.60 136.40,448.80 137.30,457.10 138.90,438.40 140.60,475.80 142.20,454.30 143.40,464.00 144.60,441.70 146.60,485.10 147.40,469.80 148.20,477.50 149.80,442.35 150.00,513.00 151.00,462.80 152.10,474.60 153.20,453.80 154.35,469.60 154.55,513.10 158.90,513.10 159.10,465.60 161.20,443.60 163.05,472.20 164.30,451.05 165.55,479.10 167.05,443.60 168.90,467.20 170.30,455.80 171.40,476.00 172.90,443.60 174.55,464.10 175.80,445.50 176.80,477.85 178.55,446.10 180.20,472.85 181.30,460.80 182.30,476.60 183.30,448.60 185.80,474.10 186.68,466.40 187.55,482.85 189.05,448.85 191.30,470.35 192.60,458.80 193.80,480.35 194.80,444.20 196.90,470.35 198.10,458.80 199.40,480.35 200.70,450.50 202.55,467.85 203.80,458.80 205.05,484.10 206.05,446.70 208.20,469.70 209.20,444.85 210.70,481.60 211.90,449.85 213.55,473.50 214.80,460.80 216.05,478.50 217.55,447.35 219.40,474.10 220.60,460.80 221.70,478.50 223.20,453.00 226.30,486.00 228.80,450.50 230.70,469.10 231.80,458.80 232.80,479.70 234.40,446.70 236.30,465.35 237.30,455.80 238.20,470.35 239.80,436.35 241.30,461.60 242.55,437.90 244.05,456.00 245.05,436.70 245.70,442.10 246.30,436.05 247.55,455.35 248.55,440.50 249.80,474.10 251.30,443.60 253.80,469.10 254.55,461.40 255.30,477.20 256.55,446.10 258.70,467.85 259.30,450.10 260.80,477.20 262.05,449.20 264.90,475.35 266.80,458.80 267.75,468.50 268.70,448.60 269.55,466.60 270.38,458.90 271.20,482.60 272.00,462.00 272.80,469.70 273.30,434.20 275.55,462.20 276.55,434.85 277.80,462.20 279.30,412.60 281.20,451.00 282.05,439.80 283.30,456.00 284.55,435.50 287.05,462.85 287.40,442.30 289.05,457.20 290.30,432.60 292.40,456.60 293.05,443.55 294.55,462.20 295.80,439.20 298.05,465.35 298.70,444.80 300.30,473.50 301.55,442.35 303.70,469.10 304.30,461.40 304.90,477.85 307.05,438.00 309.30,458.50 309.90,442.90 311.55,467.85 312.80,439.20 314.30,462.85 315.80,449.80 316.20,474.70 318.70,433.00 321.90,478.60 324.20,456.10 327.30,474.70 329.80,448.00 332.90,472.20 335.40,446.70 337.30,470.35 338.25,456.40 339.20,464.10 341.05,437.35 343.80,476.60 346.70,455.85 348.30,476.00 349.55,441.05 350.93,450.75 352.30,432.35 353.55,470.35 355.05,441.05 356.48,450.75 357.90,434.20 359.20,469.10 360.80,440.50 362.05,450.20 363.30,426.10 364.80,465.35 366.05,437.30 367.43,450.80 368.80,441.10 370.40,468.50 372.05,433.55 373.30,443.25 374.55,430.50 376.30,467.85 377.30,436.05 378.85,447.70 380.40,438.00 381.70,469.10 382.95,461.40 384.20,471.60 385.80,430.50 387.30,458.50 388.55,432.35 389.73,442.05 390.90,424.35 392.48,434.05 394.05,416.50 395.30,457.85 397.20,441.70 398.40,477.85 402.55,435.85 404.30,464.10 405.55,438.35 406.98,448.05 408.40,424.00 409.05,454.70 410.55,418.35 412.20,454.10 413.80,429.00 415.70,481.00 416.80,435.85 418.05,445.55 419.30,431.50 421.55,464.10 422.48,456.40 423.40,467.20 425.05,430.20 427.20,456.80 428.05,429.00 429.18,441.40 430.30,412.10 432.30,451.80 433.40,427.10 434.85,439.50 436.30,427.10 437.80,462.40 439.05,434.60 440.43,447.00 441.80,424.60 443.40,464.30 444.70,429.60 446.12,442.00 447.55,427.70 449.05,466.80 450.55,433.35 451.98,445.75 453.40,419.00 454.70,454.90 455.90,426.50 457.40,438.90 458.90,426.50 461.40,461.20 464.30,424.00 466.40,453.05 467.05,422.70 468.30,435.10 469.55,420.20 471.40,445.70 472.70,419.60 473.95,432.00 475.20,407.35 477.05,452.40 478.30,425.85 479.68,438.25 481.05,411.85 482.70,445.70 483.90,424.00 485.15,436.40 486.40,410.85 488.30,442.55 489.30,419.00 490.68,431.40 492.05,417.10 493.90,450.05 495.20,427.70 496.62,440.10 498.05,417.70 499.55,448.80 500.68,438.40 501.80,465.55 503.90,428.35 505.20,450.05 506.40,432.70 507.65,445.10 508.90,407.35 510.80,442.55 512.05,427.10 513.30,439.50 514.55,422.10 516.40,448.80 517.30,419.60 518.75,432.00 520.20,416.50 522.05,443.80 523.05,427.70 524.20,444.30" fill="none" stroke="#ff7f0e" stroke-width="1.2" stroke-linejoin="round"/>
<rect x="33.2" y="496.00" width="52.2" height="20" rx="1.5" fill="#fff" fill-opacity="0.8" stroke="#d8d8d8" stroke-width="0.6"/>
<line x1="35.3" x2="49.1" y1="501.00" y2="501.00" stroke="#1f77b4" stroke-width="1.6"/>
<line x1="35.3" x2="49.1" y1="510.10" y2="510.10" stroke="#ff7f0e" stroke-width="1.5"/>
<text x="53.3" y="503.70" font-size="6.1">Actual</text>
<text x="53.3" y="513.00" font-size="6.1">Predicted</text>
<rect x="31.0" y="387.1" width="516.5" height="132.19999999999993" fill="none" stroke="#7a7a7a" stroke-width="1.15"/>
<line x1="28.8" x2="31.0" y1="513.40" y2="513.40" stroke="#222" stroke-width="0.85"/>
<text x="26.7" y="516.20" font-size="6.1" text-anchor="end">0.0</text>
<line x1="28.8" x2="31.0" y1="487.92" y2="487.92" stroke="#222" stroke-width="0.85"/>
<text x="26.7" y="490.72" font-size="6.1" text-anchor="end">0.2</text>
<line x1="28.8" x2="31.0" y1="462.44" y2="462.44" stroke="#222" stroke-width="0.85"/>
<text x="26.7" y="465.24" font-size="6.1" text-anchor="end">0.4</text>
<line x1="28.8" x2="31.0" y1="436.96" y2="436.96" stroke="#222" stroke-width="0.85"/>
<text x="26.7" y="439.76" font-size="6.1" text-anchor="end">0.6</text>
<line x1="28.8" x2="31.0" y1="411.48" y2="411.48" stroke="#222" stroke-width="0.85"/>
<text x="26.7" y="414.28" font-size="6.1" text-anchor="end">0.8</text>
<line x1="49.50" x2="49.50" y1="519.3" y2="521.5" stroke="#222" stroke-width="0.85"/>
<text x="50.10" y="529.30" font-size="6.05" text-anchor="middle">2022-03-15</text>
<line x1="144.80" x2="144.80" y1="519.3" y2="521.5" stroke="#222" stroke-width="0.85"/>
<text x="145.40" y="529.30" font-size="6.05" text-anchor="middle">2022-04-01</text>
<line x1="223.29" x2="223.29" y1="519.3" y2="521.5" stroke="#222" stroke-width="0.85"/>
<text x="223.89" y="529.30" font-size="6.05" text-anchor="middle">2022-04-15</text>
<line x1="312.98" x2="312.98" y1="519.3" y2="521.5" stroke="#222" stroke-width="0.85"/>
<text x="313.58" y="529.30" font-size="6.05" text-anchor="middle">2022-05-01</text>
<line x1="391.47" x2="391.47" y1="519.3" y2="521.5" stroke="#222" stroke-width="0.85"/>
<text x="392.07" y="529.30" font-size="6.05" text-anchor="middle">2022-05-15</text>
<line x1="486.77" x2="486.77" y1="519.3" y2="521.5" stroke="#222" stroke-width="0.85"/>
<text x="487.37" y="529.30" font-size="6.05" text-anchor="middle">2022-06-01</text>
<text class="lab" x="289.25" y="540.60" font-size="9.1" text-anchor="middle">Date</text>
<text class="lab" transform="translate(10.8,454.40) rotate(-90)" font-size="9.1" text-anchor="middle">Accuracy</text>
<text class="ttl" x="289.25" y="383.80" font-size="12.33" text-anchor="middle">GRU result for forecasting electricity load value</text>
</g></svg></body></html>
